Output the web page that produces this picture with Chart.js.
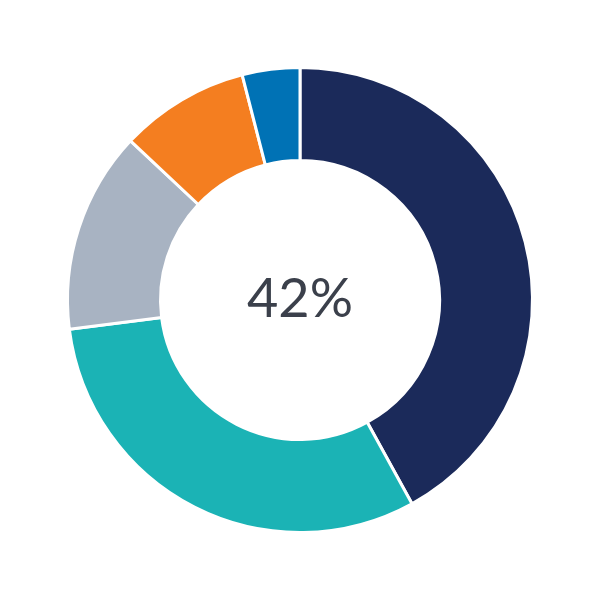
<!DOCTYPE html>
<html>
<head>
<meta charset="utf-8">
<script src="https://cdn.jsdelivr.net/npm/chart.js@4/dist/chart.umd.min.js"></script>
<style>
  html, body { margin: 0; padding: 0; background: #fff; }
  #wrap { width: 600px; height: 600px; }
</style>
</head>
<body>
<div id="wrap"><canvas id="donut"></canvas></div>
<script>
const labels = ['A', 'B', 'C', 'D', 'E'];
const values = [42, 31, 14, 9, 4];
const colors = ['#1b2a5a', '#1bb3b5', '#a8b3c2', '#f47e20', '#0072b5'];
const centerLabel = '42%';

const centerText = {
  id: 'centerText',
  afterDraw(chart) {
    const { ctx, chartArea } = chart;
    const x = (chartArea.left + chartArea.right) / 2;
    const y = (chartArea.top + chartArea.bottom) / 2;
    ctx.save();
    ctx.font = '400 54px Lato, "Open Sans", sans-serif';
    ctx.fillStyle = '#3b404b';
    ctx.textAlign = 'center';
    ctx.textBaseline = 'middle';
    ctx.fillText(centerLabel, x, y);
    ctx.restore();
  }
};

new Chart(document.getElementById('donut').getContext('2d'), {
  type: 'doughnut',
  data: {
    labels: labels,
    datasets: [{
      data: values,
      backgroundColor: colors,
      borderColor: '#ffffff',
      borderWidth: 3
    }]
  },
  options: {
    responsive: true,
    maintainAspectRatio: false,
    animation: false,
    cutout: '60%',
    layout: { padding: 66 },
    plugins: {
      legend: { display: false },
      tooltip: { enabled: false }
    }
  },
  plugins: [centerText]
});
</script>
</body>
</html>
